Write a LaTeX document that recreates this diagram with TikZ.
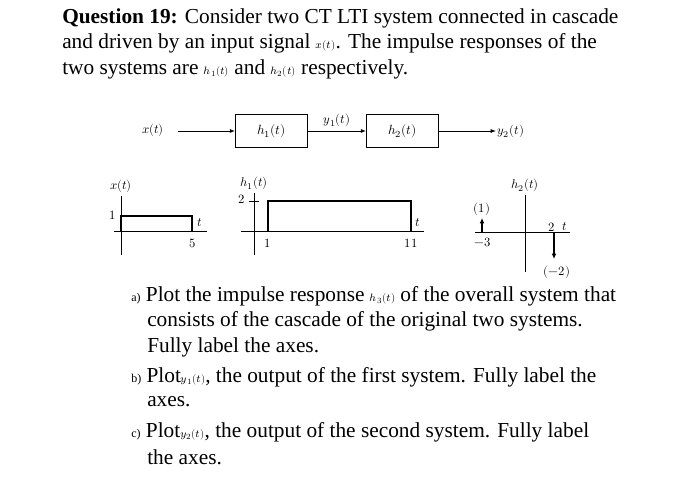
\documentclass[tikz,border=0pt]{standalone}
\usepackage{fontspec}
\setmainfont{Liberation Serif}
\usepackage{unicode-math}
\usetikzlibrary{arrows.meta}
\begin{document}
\begin{tikzpicture}[x=0.75pt,y=-0.75pt,
  txt/.style={anchor=west,inner sep=0,font=\fontsize{16}{19}\selectfont},
  lab/.style={inner sep=1pt,font=\fontsize{9.5}{11}\selectfont},
  blk/.style={draw,line width=0.6pt,minimum width=54pt,minimum height=25pt,inner sep=0},
  sig/.style={-{Latex[length=4pt,width=3pt]},line width=0.6pt},
  ax/.style={line width=0.6pt},
  pl/.style={line width=1.3pt},
  imp/.style={line width=1.3pt,-{Latex[length=4pt,width=3.5pt]}}]
\fill[white] (0,0) rectangle (700,479);
\newcommand\sm[1]{{\fontsize{8}{9}\selectfont$#1$}}
\node[txt] (l1) at (62,18) {\textbf{Question 19:} Consider two CT LTI system connected in cascade};
\node[txt] (l2) at (62,43) {and driven by an input signal \sm{x(t)}. The impulse responses of the};
\node[txt] (l3) at (62,69) {two systems are \sm{h_1(t)} and \sm{h_2(t)} respectively.};
% block diagram
\node[lab] (xin) at (153,130) {$x(t)$};
\coordinate (a0) at (178,131);
\node[blk] (b1) at (271.5,131) {$h_1(t)$};
\node[blk] (b2) at (402.5,131) {$h_2(t)$};
\node[lab,anchor=west] (y2) at (496,131) {$y_2(t)$};
\draw[sig] (a0) -- (b1.west);
\draw[sig] (b1.east) -- node[lab,above=2pt] (y1) {$y_1(t)$} (b2.west);
\draw[sig] (b2.east) -- (y2.west);
% x(t)
\draw[ax] (121,196) -- (121,255);
\draw[ax] (114,231) -- (207,231);
\draw[pl] (121,231) -- (121,216) -- (192,216) -- (192,231);
\node[lab] (xl) at (121,186) {$x(t)$};
\node[lab] (x1) at (113,215) {$1$};
\node[lab] (x5) at (193,243) {$5$};
\node[lab] (xt) at (200,223) {$t$};
% h1
\draw[ax] (254,193) -- (254,255);
\draw[ax] (241,231) -- (424,231);
\draw[ax] (249,201) -- (259,201);
\draw[pl] (268,231) -- (268,201) -- (411,201) -- (411,231);
\node[lab] (hl) at (254,183) {$h_1(t)$};
\node[lab] (h2v) at (242,199) {$2$};
\node[lab] (h1v) at (268,243) {$1$};
\node[lab] (h11) at (411,243) {$11$};
\node[lab] (ht) at (418,223) {$t$};
% h2
\draw[ax] (525,195) -- (525,272);
\draw[ax] (475,232) -- (570,232);
\draw[imp] (482,232) -- (482,218);
\draw[imp] (554,232) -- (554,259);
\node[lab] (g1) at (482,209) {$(1)$};
\node[lab] (g3) at (483,242) {$-3$};
\node[lab] (g2) at (557,272) {$(-2)$};
\node[lab] (gt2) at (552,227) {$2$};
\node[lab] (gt) at (565,227) {$t$};
\node[lab] (gl) at (525,185) {$h_2(t)$};
% questions
\node[txt] (qa) at (131,296) {{\small a)} Plot the impulse response \sm{h_3(t)} of the overall system that};
\node[txt] (qa2) at (147,321) {consists of the cascade of the original two systems.};
\node[txt] (qa3) at (147,347) {Fully label the axes.};
\node[txt] (qb) at (131,377) {{\small b)} Plot\sm{y_1(t)}, the output of the first system. Fully label the};
\node[txt] (qb2) at (147,402) {axes.};
\node[txt] (qc) at (131,432) {{\small c)} Plot\sm{y_2(t)}, the output of the second system. Fully label};
\node[txt] (qc2) at (147,457) {the axes.};
\end{tikzpicture}
\end{document}
